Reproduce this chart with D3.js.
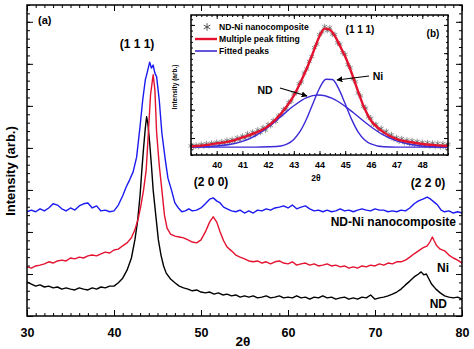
<!DOCTYPE html>
<html>
<head>
<meta charset="utf-8">
<script src="https://cdn.jsdelivr.net/npm/d3@7/dist/d3.min.js"></script>
<style>
  html, body { margin: 0; padding: 0; background: #fff; }
  svg { display: block; font-family: "Liberation Sans", Arial, sans-serif; font-weight: bold; }
</style>
</head>
<body>
<svg id="chart" width="474" height="349"></svg>
<script>
// ---- main panel (a): XRD patterns, [2theta, intensity arb.] ----
const ndPattern = [
  [30,81],[30.5,76],[31,71],[31.5,74],[32,69],[32.5,71],[33,67],[33.5,69],[34,64],[34.5,67],
  [35,64],[35.5,62],[36,67],[36.5,64],[37,62],[37.5,67],[38,64],[38.5,69],[39,67],[39.5,71],
  [40,71],[40.5,79],[41,90],[41.5,109],[42,138],[42.4,181],[42.7,224],[43,288],[43.2,347],[43.4,400],
  [43.6,447],[43.75,474],[43.9,457],[44.1,412],[44.3,359],[44.5,300],[44.8,240],[45.1,181],[45.4,145],[45.7,119],
  [46,102],[46.5,88],[47,79],[47.5,71],[48,67],[48.5,64],[49,60],[49.5,62],[50,57],[50.5,55],
  [51,57],[51.5,52],[52,55],[52.5,50],[53,52],[53.5,48],[54,50],[54.5,45],[55,48],[55.5,45],
  [56,48],[56.5,43],[57,45],[57.5,48],[58,43],[58.5,45],[59,48],[59.5,43],[60,45],[60.5,43],
  [61,48],[61.5,43],[62,45],[62.5,40],[63,45],[63.5,43],[64,48],[64.5,43],[65,45],[65.5,40],
  [66,43],[66.5,45],[67,40],[67.5,43],[68,40],[68.5,45],[69,43],[69.5,50],[70,40],[70.5,43],
  [71,45],[71.5,48],[72,52],[72.5,57],[73,64],[73.5,74],[74,83],[74.5,93],[75,100],[75.3,105],
  [75.6,98],[75.9,100],[76.2,88],[76.5,76],[77,64],[77.5,55],[78,48],[78.5,45],[79,43],[79.5,45],[80,40]
];
const niPattern = [
  [30,117],[30.5,114],[31,119],[31.5,121],[32,124],[32.5,129],[33,126],[33.5,131],[34,133],[34.5,131],
  [35,138],[35.5,136],[36,140],[36.5,138],[37,143],[37.5,145],[38,143],[38.5,148],[39,152],[39.5,150],
  [40,157],[40.5,159],[41,167],[41.5,174],[42,186],[42.4,205],[42.8,233],[43.1,264],[43.4,300],[43.7,347],
  [43.95,436],[44.2,526],[44.5,574],[44.7,538],[44.9,436],[45.2,359],[45.5,300],[45.8,240],[46.1,209],[46.5,195],
  [47,190],[47.5,188],[48,186],[48.5,181],[49,176],[49.5,174],[50,181],[50.5,200],[51,224],[51.4,236],
  [51.8,224],[52.2,200],[52.6,179],[53,164],[53.5,155],[54,145],[54.5,140],[55,136],[55.5,131],[56,129],
  [56.5,131],[57,126],[57.5,129],[58,124],[58.5,129],[59,131],[59.5,126],[60,124],[60.5,129],[61,121],
  [61.5,124],[62,126],[62.5,121],[63,124],[63.5,119],[64,121],[64.5,124],[65,119],[65.5,121],[66,117],
  [66.5,119],[67,114],[67.5,117],[68,114],[68.5,119],[69,117],[69.5,121],[70,119],[70.5,124],[71,121],
  [71.5,126],[72,124],[72.5,129],[73,129],[73.5,133],[74,140],[74.5,148],[75,155],[75.5,162],[76,167],
  [76.3,176],[76.6,188],[76.8,179],[77.1,167],[77.5,159],[78,155],[78.5,145],[79,138],[79.5,133],[80,126]
];
const compositePattern = [
  [30,248],[30.5,252],[31,248],[31.5,255],[32,250],[32.5,257],[33,267],[33.5,264],[34,255],[34.5,250],
  [35,257],[35.5,252],[36,262],[36.5,267],[37,269],[37.5,257],[38,262],[38.5,250],[39,252],[39.5,248],
  [40,250],[40.5,264],[41,286],[41.4,307],[41.8,324],[42.2,343],[42.6,378],[43,452],[43.3,514],[43.6,562],
  [43.8,578],[44.1,604],[44.3,590],[44.5,597],[44.7,578],[44.9,569],[45.2,514],[45.5,436],[45.9,371],[46.2,328],
  [46.6,300],[47,269],[47.4,257],[47.8,248],[48.2,250],[48.6,255],[49,250],[49.5,252],[50,257],[50.5,267],
  [51,278],[51.4,281],[51.8,274],[52.2,269],[52.6,259],[53,255],[53.5,250],[54,248],[54.5,252],[55,245],
  [55.5,250],[56,245],[56.5,252],[57,250],[57.5,255],[58,252],[58.5,257],[59,259],[59.5,262],[60,257],
  [60.5,264],[61,255],[61.5,259],[62,262],[62.5,255],[63,250],[63.5,252],[64,248],[64.5,252],[65,248],
  [65.5,250],[66,255],[66.5,250],[67,252],[67.5,248],[68,252],[68.5,255],[69,252],[69.5,250],[70,255],
  [70.5,252],[71,252],[71.5,248],[72,250],[72.5,248],[73,252],[73.5,250],[74,257],[74.5,267],[75,274],
  [75.5,278],[76,283],[76.4,278],[76.8,271],[77.2,264],[77.6,252],[78,248],[78.5,250],[79,245],[79.5,248],[80,245]
];

// ---- inset (b): (1 1 1) reflection of the composite ----
const measured = [
  [39.0,-0.28],[39.1,-0.32],[39.2,-0.25],[39.3,-0.30],[39.4,-0.22],[39.5,-0.28],[39.6,-0.20],[39.7,-0.27],[39.8,-0.18],[39.9,-0.24],
  [40.0,-0.15],[40.1,-0.22],[40.2,-0.13],[40.3,-0.18],[40.4,-0.08],[40.5,-0.15],[40.6,-0.05],[40.7,-0.12],[40.8,0.01],[40.9,-0.07],
  [41.0,0.07],[41.1,-0.01],[41.2,0.15],[41.3,0.06],[41.4,0.21],[41.5,0.12],[41.6,0.29],[41.7,0.20],[41.8,0.37],[41.9,0.28],
  [42.0,0.48],[42.1,0.44],[42.2,0.62],[42.3,0.59],[42.4,0.78],[42.5,0.82],[42.6,1.01],[42.7,1.03],[42.8,1.26],[42.9,1.30],
  [43.0,1.56],[43.1,1.61],[43.2,1.92],[43.3,1.98],[43.4,2.30],[43.5,2.44],[43.6,2.71],[43.7,2.88],[43.8,3.20],[43.9,3.32],
  [44.0,3.66],[44.1,3.75],[44.2,3.94],[44.3,3.80],[44.4,3.90],[44.5,3.67],[44.6,3.66],[44.7,3.37],[44.8,3.32],[44.9,3.02],
  [45.0,2.96],[45.1,2.59],[45.2,2.49],[45.3,2.09],[45.4,1.99],[45.5,1.59],[45.6,1.49],[45.7,1.12],[45.8,1.06],[45.9,0.75],
  [46.0,0.70],[46.1,0.49],[46.2,0.48],[46.3,0.30],[46.4,0.34],[46.5,0.19],[46.6,0.24],[46.7,0.07],[46.8,0.12],[46.9,-0.03],
  [47.0,0.02],[47.1,-0.11],[47.2,-0.02],[47.3,-0.16],[47.4,-0.07],[47.5,-0.19],[47.6,-0.09],[47.7,-0.22],[47.8,-0.12],[47.9,-0.25],
  [48.0,-0.15],[48.1,-0.26],[48.2,-0.16],[48.3,-0.28],[48.4,-0.18],[48.5,-0.30],[48.6,-0.19],[48.7,-0.31],[48.8,-0.20],[48.9,-0.32],[49.0,-0.22]
];
const peakFit = [
  [39.0,-0.30],[39.5,-0.26],[40.0,-0.19],[40.5,-0.12],[41.0,0.02],[41.5,0.18],[42.0,0.42],[42.5,0.86],[42.75,1.15],
  [43.0,1.50],[43.25,1.95],[43.5,2.45],[43.75,3.02],[44.0,3.60],[44.2,3.87],[44.4,3.83],[44.6,3.60],[44.8,3.25],
  [45.0,2.88],[45.25,2.30],[45.5,1.65],[45.75,1.05],[46.0,0.62],[46.25,0.38],[46.5,0.20],[47.0,-0.04],[47.5,-0.14],
  [48.0,-0.21],[48.5,-0.25],[49.0,-0.28]
];
const ndPeak = [
  [39.0,-0.31],[39.5,-0.31],[40.0,-0.28],[40.5,-0.23],[41.0,-0.12],[41.5,0.08],[42.0,0.38],[42.5,0.76],[43.0,1.14],
  [43.5,1.43],[43.95,1.52],[44.5,1.40],[45.0,1.12],[45.5,0.76],[46.0,0.40],[46.5,0.10],[47.0,-0.10],[47.5,-0.22],
  [48.0,-0.28],[48.5,-0.31],[49.0,-0.32]
];
const niPeak = [
  [39.0,-0.32],[41.5,-0.32],[42.0,-0.31],[42.5,-0.28],[42.75,-0.21],[43.0,-0.05],[43.25,0.24],[43.5,0.68],[43.75,1.23],
  [44.0,1.76],[44.25,2.08],[44.5,2.07],[44.75,1.74],[45.0,1.21],[45.25,0.66],[45.5,0.22],[45.75,-0.06],[46.0,-0.21],
  [46.5,-0.31],[47.0,-0.32],[49.0,-0.32]
];
const legendLabels = ["ND-Ni nanocomposite", "Multiple peak fitting", "Fitted peaks"];

const svg = d3.select("#chart");

// main frame
const frame = { left: 27, right: 462, top: 5, bottom: 316 };
const x = d3.scaleLinear().domain([30, 80]).range([frame.left, frame.right]);
const y = d3.scaleLinear().domain([0, 740]).range([frame.bottom, frame.top]);

const ticksX = (scale, g, y0, size, values, fmt) =>
  g.append("g").attr("transform", `translate(0,${y0})`)
    .call(d3.axisBottom(scale).tickValues(values).tickSize(size).tickSizeOuter(0).tickFormat(fmt || ""))
    .call(s => s.select(".domain").remove());
const ticksY = (scale, g, x0, size, values) =>
  g.append("g").attr("transform", `translate(${x0},0)`)
    .call(d3.axisLeft(scale).tickValues(values).tickSize(size).tickSizeOuter(0).tickFormat(""))
    .call(s => s.select(".domain").remove());

const axes = svg.append("g").attr("stroke-width", 1);
// bottom / top
ticksX(x, axes, frame.bottom, -3, d3.range(30, 81, 1));
const xb = ticksX(x, axes, frame.bottom, -6, d3.range(30, 81, 10), d3.format("d"));
xb.selectAll("text").attr("y", 12).style("font-size", "12.5px").style("font-weight", "bold").attr("fill", "#000");
ticksX(x, axes, frame.top, 3, d3.range(30, 81, 1));
ticksX(x, axes, frame.top, 6, d3.range(30, 81, 10));
// left / right
ticksY(y, axes, frame.left, -3, d3.range(0, 741, 20));
ticksY(y, axes, frame.left, -6, d3.range(0, 741, 100));
ticksY(y, axes, frame.right, 3, d3.range(0, 741, 20));
ticksY(y, axes, frame.right, 6, d3.range(0, 741, 100));
axes.selectAll(".tick line").attr("stroke", "#000");

const line = d3.line().x(d => x(d[0])).y(d => y(d[1]));
const patterns = [
  { data: ndPattern, color: "#000000" },
  { data: niPattern, color: "#e3122f" },
  { data: compositePattern, color: "#1a1af0" }
];
svg.append("g").selectAll("path").data(patterns).join("path")
  .attr("d", d => line(d.data))
  .attr("fill", "none")
  .attr("stroke", d => d.color)
  .attr("stroke-width", 1.4)
  .attr("stroke-linejoin", "round");

svg.append("rect")
  .attr("x", frame.left).attr("y", frame.top)
  .attr("width", frame.right - frame.left).attr("height", frame.bottom - frame.top)
  .attr("fill", "none").attr("stroke", "#000").attr("stroke-width", 1.5);

const label = (px, py, txt, size, anchor) =>
  svg.append("text").attr("x", px).attr("y", py).attr("text-anchor", anchor || "middle")
    .style("font-size", size + "px").attr("fill", "#000").text(txt);

label(38, 24, "(a)", 11, "start");
label(137, 48, "(1 1 1)", 12);
label(211, 186, "(2 0 0)", 12);
label(428, 187, "(2 2 0)", 12);
label(456, 226, "ND-Ni nanocomposite", 12, "end");
label(449, 272, "Ni", 12, "end");
label(447, 308, "ND", 12, "end");
label(243, 346, "2\u03b8", 13.5);
svg.append("text")
  .attr("transform", "translate(15,171) rotate(-90)")
  .attr("text-anchor", "middle").style("font-size", "13px").text("Intensity (arb.)");

// ---- inset ----
const inset = { left: 191, right: 448, top: 15, bottom: 155 };
const xi = d3.scaleLinear().domain([39, 49]).range([inset.left, inset.right]);
const yi = d3.scaleLinear().domain([-0.6, 4.35]).range([inset.bottom, inset.top]);

svg.append("rect")
  .attr("x", inset.left).attr("y", inset.top)
  .attr("width", inset.right - inset.left).attr("height", inset.bottom - inset.top)
  .attr("fill", "#fff");

const iax = svg.append("g");
ticksX(xi, iax, inset.bottom, -2, d3.range(39, 49.01, 0.2));
const xib = ticksX(xi, iax, inset.bottom, -4, d3.range(40, 49, 1), d3.format("d"));
xib.selectAll("text").attr("y", 7).style("font-size", "9px").style("font-weight", "bold").attr("fill", "#000");
ticksX(xi, iax, inset.top, 2, d3.range(39, 49.01, 0.2));
ticksX(xi, iax, inset.top, 4, d3.range(40, 49, 1));
ticksY(yi, iax, inset.left, -2, d3.range(-0.6, 4.36, 0.2));
ticksY(yi, iax, inset.left, -4, d3.range(0, 5, 1));
ticksY(yi, iax, inset.right, 2, d3.range(-0.6, 4.36, 0.2));
ticksY(yi, iax, inset.right, 4, d3.range(0, 5, 1));
iax.selectAll(".tick line").attr("stroke", "#000");

const iline = d3.line().x(d => xi(d[0])).y(d => yi(d[1])).curve(d3.curveMonotoneX);
const star = d3.symbol().type(d3.symbolAsterisk).size(22);

svg.append("g").selectAll("path").data(measured).join("path")
  .attr("transform", d => `translate(${xi(d[0])},${yi(d[1])})`)
  .attr("d", star)
  .attr("fill", "none").attr("stroke", "#555").attr("stroke-width", 0.8).attr("opacity", 0.8);

svg.append("g").selectAll("path").data([ndPeak, niPeak]).join("path")
  .attr("d", iline).attr("fill", "none").attr("stroke", "#3b2ad6").attr("stroke-width", 1.4);
svg.append("path").attr("d", iline(peakFit))
  .attr("fill", "none").attr("stroke", "#e3122f").attr("stroke-width", 2.4);

svg.append("rect")
  .attr("x", inset.left).attr("y", inset.top)
  .attr("width", inset.right - inset.left).attr("height", inset.bottom - inset.top)
  .attr("fill", "none").attr("stroke", "#000").attr("stroke-width", 1.5);

// legend
const legend = svg.append("g");
legendLabels.forEach((t, i) => {
  const ly = 27 + i * 12;
  if (i === 0) {
    legend.append("path").attr("transform", `translate(207,${ly})`)
      .attr("d", d3.symbol().type(d3.symbolAsterisk).size(40))
      .attr("fill", "none").attr("stroke", "#444").attr("stroke-width", 0.9);
  } else {
    legend.append("line").attr("x1", 195).attr("x2", 217).attr("y1", ly).attr("y2", ly)
      .attr("stroke", i === 1 ? "#e3122f" : "#3b2ad6").attr("stroke-width", i === 1 ? 2.4 : 1.6);
  }
  legend.append("text").attr("x", 219).attr("y", ly + 3).style("font-size", "8.6px").text(t);
});

label(360, 33, "(1 1 1)", 10);
label(433, 37, "(b)", 10);
label(265, 94, "ND", 10.5);
label(378, 80, "Ni", 10.5);
label(316, 181, "2\u03b8", 8.5);
svg.append("text")
  .attr("transform", "translate(177,87) rotate(-90)")
  .attr("text-anchor", "middle").style("font-size", "6.5px").text("Intensity (arb.)");

svg.append("defs").append("marker")
  .attr("id", "arrow").attr("viewBox", "0 0 10 10").attr("refX", 9).attr("refY", 5)
  .attr("markerWidth", 5).attr("markerHeight", 5).attr("orient", "auto")
  .append("path").attr("d", "M0,0L10,5L0,10z").attr("fill", "#000");
[[280, 88, 307, 96], [369, 76, 337, 80]].forEach(a =>
  svg.append("line").attr("x1", a[0]).attr("y1", a[1]).attr("x2", a[2]).attr("y2", a[3])
    .attr("stroke", "#000").attr("stroke-width", 1.2).attr("marker-end", "url(#arrow)"));
</script>
</body>
</html>
